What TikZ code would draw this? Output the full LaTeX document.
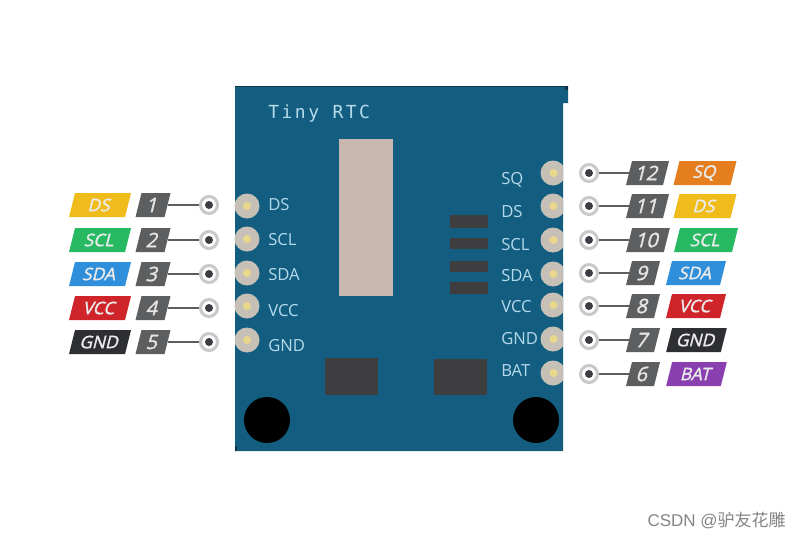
\documentclass[tikz,border=0pt]{standalone}
\usepackage{fontspec}
\setmainfont{Open Sans}
\newfontfamily\cjk{Noto Sans CJK SC}
\newfontfamily\silk[LetterSpace=14]{DejaVu Sans Mono}
\newfontfamily\tagfont[FakeBold=1.6]{Open Sans}
\definecolor{boardc}{HTML}{135E80}
\definecolor{boardedge}{HTML}{0C3347}
\definecolor{silkc}{HTML}{B5DAEC}
\definecolor{chipc}{HTML}{C9B7AF}
\definecolor{darkchip}{HTML}{3E3E40}
\definecolor{padc}{HTML}{C6C0B6}
\definecolor{padcore}{HTML}{E9D88C}
\definecolor{numc}{HTML}{5C5E60}
\definecolor{ringc}{HTML}{C9C9C9}
\definecolor{pincore}{HTML}{3C3C42}
\definecolor{tagDS}{HTML}{F0BC1C}
\definecolor{tagSCL}{HTML}{27BA63}
\definecolor{tagSDA}{HTML}{2F8FDB}
\definecolor{tagVCC}{HTML}{D0242B}
\definecolor{tagGND}{HTML}{2E2F33}
\definecolor{tagBAT}{HTML}{8A3FB0}
\definecolor{tagSQ}{HTML}{E57E1E}
\tikzset{
  pinlabel/.style={xslant=0.25,inner sep=0,outer sep=0,minimum height=18pt,text=white,font=\tagfont\fontsize{13}{13}\selectfont},
  tagbox/.style={pinlabel,text=white!92!black},
  numbox/.style={pinlabel,fill=numc,text=white!90!black,font=\tagfont\fontsize{15}{15}\selectfont},
  silktext/.style={text=silkc,inner sep=0,anchor=west,font=\fontsize{12.5}{12.5}\selectfont},
  boardpad/.style={circle,fill=padc,minimum size=18.75pt,inner sep=0},
  padmid/.style={circle,fill=padcore,minimum size=6pt,inner sep=0},
  pinring/.style={circle,draw=ringc,line width=2.25pt,fill=white,minimum size=12.75pt,inner sep=0},
  pinmid/.style={circle,fill=pincore,minimum size=6pt,inner sep=0},
  wire/.style={draw=numc,line width=1.5pt},
  smd/.style={fill=darkchip,inner sep=0,outer sep=0},
  hole/.style={circle,fill=black,minimum size=34.5pt,inner sep=0}
}
\begin{document}
\begin{tikzpicture}[x=0.75pt,y=-0.75pt]
\useasboundingbox[fill=white] (0,0) rectangle (800,539);
% board
\fill[boardc] (235,86) -- (568,86) -- (568,103) -- (563,103) -- (563,451) -- (235,451) -- cycle;
\draw[boardedge,line width=1.2pt] (235,86.5) -- (568,86.5);
\fill[boardedge] (565,86) rectangle (568,90);
\fill[boardedge] (235,446) rectangle (237,451);
\node[silktext,font=\silk\fontsize{13.5}{13.5}\selectfont] (title) at (268,113.5) {Tiny RTC};
% battery / chips
\node[fill=chipc,inner sep=0,minimum width=40.5pt,minimum height=117.75pt] (chip) at (366,217.5) {};
\node[smd,minimum width=39.75pt,minimum height=27.75pt] (icA) at (351.5,376.5) {};
\node[smd,minimum width=39.75pt,minimum height=27pt] (icB) at (460.5,377) {};
\node[smd,minimum width=28.5pt,minimum height=9.5pt] (smdA) at (469,221.5) {};
\node[smd,minimum width=28.5pt,minimum height=8.5pt] (smdB) at (469,243.5) {};
\node[smd,minimum width=28.5pt,minimum height=8.5pt] (smdC) at (469,266.5) {};
\node[smd,minimum width=28.5pt,minimum height=9pt] (smdD) at (469,288) {};
\node[hole] (holeA) at (267,420) {};
\node[hole] (holeB) at (536,420) {};
% left side
\foreach \n/\py/\ty/\ly/\lab in {1/205/206/205/DS,2/240/239/240/SCL,3/274/273/275/SDA,4/308/306/311/VCC,5/342/340/346/GND}{
  \node[boardpad] (lpad\n) at (247,\ty) {};
  \node[padmid] (lcore\n) at (247,\ty) {};
  \node[silktext] (ltxt\n) at (268,\ly) {\lab};
  \node[pinring] (lpin\n) at (209,\py) {};
  \node[pinmid] (lpinc\n) at (209,\py) {};
  \node[numbox,minimum width=21.75pt] (lnum\n) at (153,\py) {\n};
  \node[tagbox,fill=tag\lab,minimum width=42pt] (ltag\n) at (100,\py) {\lab};
  \draw[wire] (lnum\n.east) -- (lpin\n.west);
}
% right side
\begin{scope}
\clip (500,150) rectangle (563,400);
\foreach \n/\py in {12/173,11/206,10/240,9/274,8/305,7/339,6/373}{
  \node[boardpad] (rpad\n) at (553,\py) {};
  \node[padmid] (rcore\n) at (553.5,\py) {};
}
\end{scope}
\foreach \n/\ly/\lab in {12/180/SQ,11/212/DS,10/245/SCL,9/276/SDA,8/307/VCC,7/339/GND,6/371/BAT}{
  \node[silktext] (rtxt\n) at (501,\ly) {\lab};
}
\foreach \n/\py/\nx/\nw/\tx/\tw/\lab in {12/173/647.5/27.75/705/42.75/SQ,11/206/647.5/27.75/705/42.75/DS,10/240/648/28.25/706/43.5/SCL,9/273/643/21/696/40.5/SDA,8/306/643/21/696/40.5/VCC,7/340/643/21/696.5/41/GND,6/374/643/21/696.5/41/BAT}{
  \node[pinring] (rpin\n) at (589,\py) {};
  \node[pinmid] (rpinc\n) at (589,\py) {};
  \node[numbox,minimum width=\nw pt] (rnum\n) at (\nx,\py) {\n};
  \node[tagbox,fill=tag\lab,minimum width=\tw pt] (rtag\n) at (\tx,\py) {\lab};
  \draw[wire] (rpin\n.east) -- (rnum\n.west);
}
% watermark
\node[anchor=east,inner sep=0,text=black!48,font=\fontsize{12.75}{12.75}\selectfont] (mark) at (786,521) {\fontspec{Liberation Sans}CSDN @{\cjk 驴友花雕}};
\end{tikzpicture}
\end{document}
